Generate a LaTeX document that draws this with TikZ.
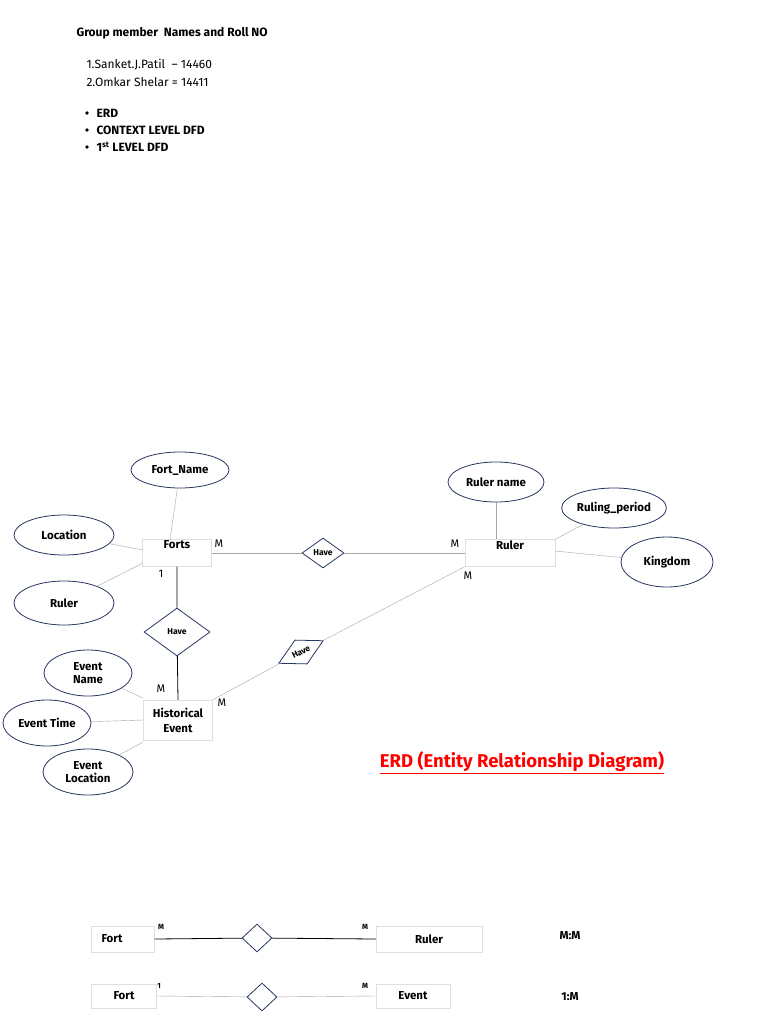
\documentclass[tikz,border=0pt]{standalone}
\usepackage{fontspec}
\setmainfont{Fira Sans}
\usetikzlibrary{shapes.geometric}
\definecolor{ell}{RGB}{40,55,95}
\begin{document}
\begin{tikzpicture}[x=1pt,y=-1pt,
  attr/.style={ellipse,draw=ell,thick,minimum width=#1,inner sep=0pt,font=\fontsize{11.5}{13}\selectfont\bfseries,align=center},
  ent/.style={draw=gray!25,minimum height=27,inner sep=0pt,font=\fontsize{11.5}{15}\selectfont\bfseries,align=center},
  rel/.style={diamond,draw=ell,thick,inner sep=0pt,font=\fontsize{8.5}{9}\selectfont\bfseries},
  ln/.style={draw=gray!70,thin},
  card/.style={font=\fontsize{11}{12}\selectfont},
  txt/.style={anchor=west,font=\fontsize{12}{14}\selectfont}]
\useasboundingbox[fill=white] (0,0) rectangle (768,1024);
% header
\node[txt,font=\fontsize{12}{14}\selectfont\bfseries] (h) at (73,33) {Group member\ \ Names and Roll NO};
\node[txt] (s1) at (83,65) {1.Sanket.J.Patil\ \ -- 14460};
\node[txt] (s2) at (83,82) {2.Omkar Shelar = 14411};
\foreach \y/\t [count=\i] in {113/ERD,130/CONTEXT LEVEL DFD,147/1\textsuperscript{st} LEVEL DFD}{
  \fill (87,\y) circle (1.8);
  \node[txt,font=\fontsize{12}{14}\selectfont\bfseries] (b\i) at (93,\y) {\t};}
% ERD
\node[ent,minimum width=69] (forts) at (177,553) {Forts\\[1pt]};
\node[ent,minimum width=90] (ruler) at (510,553) {Ruler\\[1pt]};
\node[ent,minimum width=69,minimum height=40] (hist) at (178,720) {Historical\\Event};
\node[attr=98,minimum height=36] (fn) at (180,470) {Fort\_Name};
\node[attr=100,minimum height=40] (loc) at (64,535) {Location};
\node[attr=100,minimum height=44] (ru) at (64,603) {Ruler};
\node[attr=96,minimum height=40] (rn) at (496,482) {Ruler name};
\node[attr=94,minimum height=40] (rp) at (614,508) {Ruling\_period};
\node[attr=92,minimum height=50] (kd) at (667,562) {Kingdom};
\node[attr=88,minimum height=46] (en) at (88,673) {Event\\Name};
\node[attr=88,minimum height=46] (et) at (47,723) {Event Time};
\node[attr=90,minimum height=46] (el) at (88,772) {Event\\Location};
\node[rel,minimum width=42,minimum height=30,aspect=1.4] (h1) at (323,553) {Have};
\node[rel,minimum width=66,minimum height=48,aspect=1.4] (h2) at (177,632) {Have};
\node[rel,minimum width=50,minimum height=27,aspect=1.85,rotate=27] (h3) at (301,652) {Have};
\draw[ln] (fn) -- (170,540);
\draw[ln] (loc) -- (143,550);
\draw[ln] (ru) -- (143,563);
\draw[ln] (forts.east) -- (h1) -- (ruler.west);
\draw[thick] (forts.south) -- (h2) -- (hist.north);
\draw[ln] (hist.north east) -- (h3) -- (ruler.south west);
\draw[ln] (rn) -- (ruler.north -| rn);
\draw[ln] (rp) -- (ruler.north east);
\draw[ln] (kd) -- (555,551);
\draw[ln] (en) -- (143,698);
\draw[ln] (et) -- (hist.west);
\draw[ln] (el) -- (143,742);
\node[card] (c1) at (219,544) {M};
\node[card] (c2) at (455,544) {M};
\node[card] (c3) at (161,574) {1};
\node[card] (c4) at (468,576) {M};
\node[card] (c5) at (161,689) {M};
\node[card] (c6) at (222,703) {M};
\node[font=\fontsize{18.5}{22}\selectfont\bfseries] (title) at (522,763) {\color{red}\underline{ERD (Entity Relationship Diagram)}};
% bottom
\node[ent,minimum width=63,minimum height=26] (f1) at (123,939) {\hspace*{-22pt}Fort};
\node[rel,minimum width=30,minimum height=28,aspect=1] (d1) at (257,938) {};
\node[ent,minimum width=106,minimum height=26] (r1) at (429,939) {Ruler};
\draw[thick] (f1.east) -- (d1) -- (r1.west);
\node[card,font=\fontsize{7.5}{8}\selectfont\bfseries] (m1) at (161,927) {M};
\node[card,font=\fontsize{7.5}{8}\selectfont\bfseries] (m2) at (365,927) {M};
\node[font=\fontsize{11.5}{13}\selectfont\bfseries] (mm) at (570,936) {M:M};
\node[ent,minimum width=65,minimum height=24] (f2) at (124,996) {Fort};
\node[rel,minimum width=30,minimum height=28,aspect=1] (d2) at (262,997) {};
\node[ent,minimum width=74,minimum height=24] (e2) at (413,996) {Event};
\draw[ln] (f2.east) -- (d2) -- (e2.west);
\node[card,font=\fontsize{7.5}{8}\selectfont\bfseries] (m3) at (159,986) {1};
\node[card,font=\fontsize{7.5}{8}\selectfont\bfseries] (m4) at (365,986) {M};
\node[font=\fontsize{11.5}{13}\selectfont\bfseries] (om) at (570,997) {1:M};
\end{tikzpicture}
\end{document}
